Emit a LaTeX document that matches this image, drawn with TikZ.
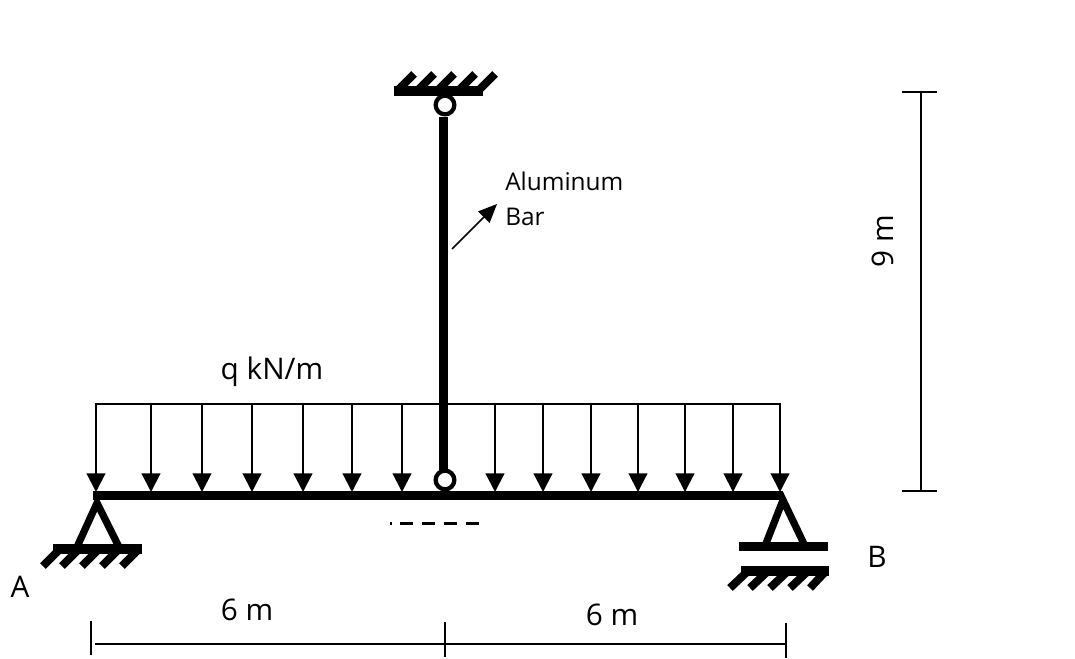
\documentclass[tikz,border=0pt]{standalone}
\usepackage{fontspec}
\setmainfont{Open Sans}
\usetikzlibrary{arrows.meta}
\tikzset{
  thickbar/.style={line width=7pt,line cap=butt},
  leg/.style={line width=5.4pt,line join=miter},
  hatchline/.style={line width=6pt},
  pin/.style={circle,draw=black,fill=white,line width=3.2pt,minimum size=14pt,inner sep=0pt},
  load/.style={line width=1.6pt,-{Triangle[length=14pt,width=14pt]}},
  dimline/.style={line width=1.7pt},
  lab/.style={inner sep=0pt,font=\fontsize{22.3pt}{26pt}\selectfont},
  smalllab/.style={inner sep=0pt,font=\fontsize{18.3pt}{22pt}\selectfont},
}
\begin{document}
\begin{tikzpicture}[x=0.75pt,y=-0.75pt]
\useasboundingbox (0,0) rectangle (1075,659);
% beam
\coordinate (bl) at (93,495.5);
\coordinate (br) at (783,495.5);
% load
\coordinate (lt1) at (96,404);
\coordinate (lt2) at (780,404);
\draw[line width=1.6pt,line cap=rect] (lt1) -- (lt2);
\foreach \x in {96,151,202,252,303,352,402,495,543,591,638,685,733,780}{
  \coordinate (s\x) at (\x,404);
  \coordinate (e\x) at (\x,492);
  \draw[load] (s\x) -- (e\x);
}
\draw[thickbar] (bl) -- (br);
% top support
\coordinate (tl) at (394,91);
\coordinate (tr) at (483,91);
\draw[thickbar] (tl) -- (tr);
\foreach \a/\b in {398/414,418/434,438/454,459/475,479/495}{
  \coordinate (ha\a) at (\a,90);
  \coordinate (hb\a) at (\b,74);
  \draw[hatchline] (ha\a) -- (hb\a);
}
% bar and pins
\node[pin] (ptop) at (445,105) {};
\node[pin] (pbot) at (445,480) {};
\coordinate (bartop) at (443.5,117);
\coordinate (barbot) at (443.5,472);
\draw[thickbar] (bartop) -- (barbot);
% dashes
\coordinate (d1) at (390,523.5);
\coordinate (d2) at (479,523.5);
\draw[line width=1.9pt,dash pattern=on 1.3pt off 6pt on 9.8pt off 6.7pt on 9.8pt off 6.7pt on 9.8pt off 6.7pt on 9.8pt off 5pt] (d1) -- (d2);
% support A
\coordinate (aa) at (97,503);
\coordinate (al) at (77,547);
\coordinate (ar) at (119,547);
\draw[leg] (al) -- (aa) -- (ar);
\coordinate (gal) at (53,549);
\coordinate (gar) at (142,549);
\draw[thickbar] (gal) -- (gar);
\foreach \a/\b in {43/60,62/79,82/99,102/119,122/139}{
  \coordinate (ga\a) at (\a,566);
  \coordinate (gb\a) at (\b,549);
  \draw[hatchline] (ga\a) -- (gb\a);
}
% support B
\coordinate (ba) at (783,500);
\coordinate (bbl) at (765,546);
\coordinate (bbr) at (805,546);
\draw[leg] (bbl) -- (ba) -- (bbr);
\coordinate (pl) at (739,546.5);
\coordinate (pr) at (828,546.5);
\draw[thickbar] (pl) -- (pr);
\coordinate (gbl) at (741,571);
\coordinate (gbr) at (829,571);
\draw[thickbar] (gbl) -- (gbr);
\foreach \a/\b in {730/748,750/768,770/788,790/808,810/826}{
  \coordinate (ja\a) at (\a,588);
  \coordinate (jb\a) at (\b,571);
  \draw[hatchline] (ja\a) -- (jb\a);
}
% dims
\coordinate (dl) at (95,644);
\coordinate (dr) at (786,644);
\draw[dimline] (dl) -- (dr);
\foreach \n/\x/\ya/\yb in {t1/91/621/655,t2/445/622/657,t3/786/623/658}{
  \coordinate (\n a) at (\x,\ya);
  \coordinate (\n b) at (\x,\yb);
  \draw[dimline,line width=1.9pt] (\n a) -- (\n b);
}
\coordinate (vt) at (921,92);
\coordinate (vb) at (921,491);
\draw[dimline] (vt) -- (vb);
\coordinate (v1a) at (902,92);
\coordinate (v1b) at (937,92);
\coordinate (v2a) at (902,491);
\coordinate (v2b) at (937,491);
\draw[dimline] (v1a) -- (v1b);
\draw[dimline] (v2a) -- (v2b);
% arrow label
\coordinate (as) at (452,249);
\coordinate (ae) at (497,204);
\draw[line width=1.1pt,-{Triangle[length=14pt,width=12pt]}] (as) -- (ae);
% labels
\node[lab] (q) at (272,372) {q kN/m};
\node[smalllab,anchor=west] (alu) at (505,181) {Aluminum};
\node[smalllab,anchor=west] (barlab) at (505,217) {Bar};
\node[lab] (dim1) at (247,610) {6 m};
\node[lab] (dim2) at (612,615) {6 m};
\node[lab,rotate=90] (dim3) at (883,241) {9 m};
\node[lab] (A) at (20,587) {A};
\node[lab] (B) at (877,557) {B};
\end{tikzpicture}
\end{document}
